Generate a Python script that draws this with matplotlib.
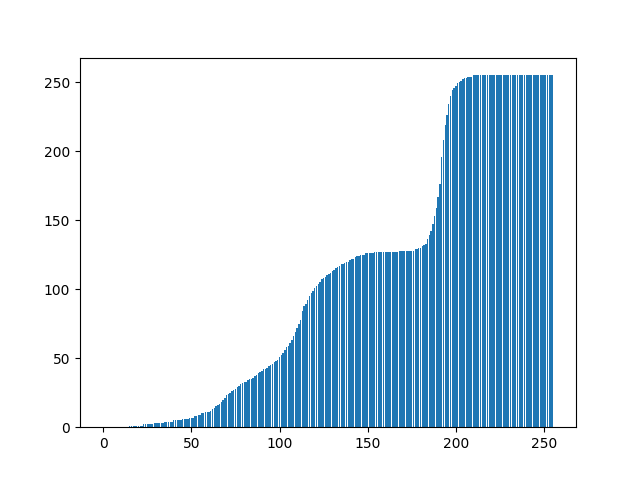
import numpy as np
import matplotlib
matplotlib.use("Agg")
import matplotlib.pyplot as plt

# grey levels 0..255 and the mapped value
levels = np.arange(256)
mapped = [
    0, 0, 0, 0, 0, 0, 0, 0, 0, 0, 0, 0, 0, 0, 0, 1,
    1, 1, 1, 1, 1, 1, 1, 2, 2, 2, 2, 2, 2, 3, 3, 3,
    3, 3, 3, 4, 4, 4, 4, 4, 5, 5, 5, 5, 5, 6, 6, 6,
    6, 7, 7, 7, 8, 8, 9, 9, 10, 10, 11, 11, 11, 12, 13, 14,
    15, 16, 17, 18, 20, 21, 23, 24, 25, 26, 27, 28, 29, 30, 31, 32,
    33, 33, 34, 35, 35, 36, 37, 38, 39, 40, 41, 42, 42, 43, 44, 45,
    46, 47, 48, 49, 51, 52, 54, 56, 58, 59, 61, 63, 66, 69, 72, 75,
    78, 84, 88, 89, 92, 95, 97, 99, 101, 102, 104, 105, 107, 108, 109, 110,
    111, 112, 113, 114, 115, 116, 117, 118, 118, 119, 120, 120, 121, 122, 122, 123,
    124, 124, 125, 125, 125, 126, 126, 126, 126, 126, 127, 127, 127, 127, 127, 127,
    127, 127, 127, 127, 127, 127, 127, 127, 128, 128, 128, 128, 128, 128, 128, 128,
    128, 129, 129, 130, 130, 131, 132, 133, 136, 139, 142, 147, 153, 159, 167, 176,
    196, 208, 219, 226, 234, 240, 244, 246, 247, 249, 250, 251, 252, 253, 253, 254,
    254, 254, 255, 255, 255, 255, 255, 255, 255, 255, 255, 255, 255, 255, 255, 255,
    255, 255, 255, 255, 255, 255, 255, 255, 255, 255, 255, 255, 255, 255, 255, 255,
    255, 255, 255, 255, 255, 255, 255, 255, 255, 255, 255, 255, 255, 255, 255, 255,
]

fig = plt.figure(figsize=(6.4, 4.8), dpi=100)
plt.bar(levels, mapped)
plt.savefig("out.png")
